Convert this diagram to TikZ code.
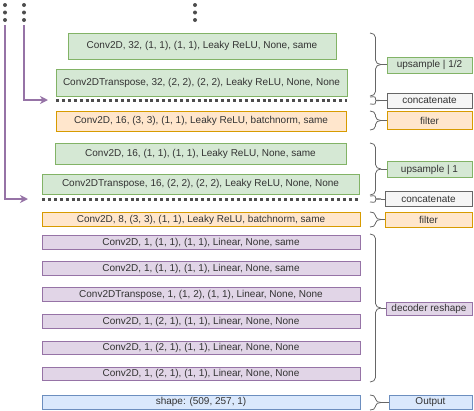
\documentclass[tikz,border=0pt]{standalone}
\usepackage{fontspec}
\setmainfont{Liberation Sans}
\usetikzlibrary{arrows.meta}
\definecolor{gfill}{HTML}{D5E8D4}\definecolor{gdraw}{HTML}{82B366}
\definecolor{ofill}{HTML}{FFE6CC}\definecolor{odraw}{HTML}{D79B00}
\definecolor{pfill}{HTML}{E1D5E7}\definecolor{pdraw}{HTML}{9673A6}
\definecolor{bfill}{HTML}{DAE8FC}\definecolor{bdraw}{HTML}{6C8EBF}
\definecolor{cfill}{HTML}{F5F5F5}\definecolor{cdraw}{HTML}{666666}
\definecolor{txt}{HTML}{333333}
\definecolor{dotc}{HTML}{4D4D4D}
\tikzset{
  base/.style={inner sep=0pt, outer sep=0pt, line width=0.8pt, text=txt, font=\fontsize{10}{11}\selectfont},
  gbox/.style={base, draw=gdraw, fill=gfill},
  obox/.style={base, draw=odraw, fill=ofill},
  pbox/.style={base, draw=pdraw, fill=pfill},
  bbox/.style={base, draw=bdraw, fill=bfill},
  cbox/.style={base, draw=cdraw, fill=cfill},
  dotline/.style={line width=3pt, dash pattern=on 3pt off 2.9pt, color=dotc},
  parr/.style={draw=pdraw, line width=1.5pt, -{Stealth[length=8pt,width=8pt,inset=2.5pt]}},
  brc/.style={draw=cdraw, line width=0.8pt},
}
\newcommand\mybrace[4]{%
  \pgfmathsetmacro\bmid{(#1+#2)/2}%
  \draw[brc] (370,#1) to[out=0,in=90] (375.5,#1+#3) -- (375.5,\bmid-#3) to[out=-90,in=180] (381,\bmid);
  \draw[brc] (370,#2) to[out=0,in=-90] (375.5,#2-#3) -- (375.5,\bmid+#3) to[out=90,in=180] (381,\bmid);
  \coordinate (#4) at (381,\bmid);
}
\begin{document}
\begin{tikzpicture}[x=1pt,y=-1pt]
\useasboundingbox (0,0) rectangle (474,410);
% dots
\foreach \xx in {5,24,195}{\foreach \yy in {5,12.5,20}{\fill[dotc] (\xx,\yy) circle (2);}}
% boxes
\node[gbox, minimum width=268pt, minimum height=26pt] (b1) at (202,46) {Conv2D, 32, (1, 1), (1, 1), Leaky ReLU, None, same};
\node[gbox, minimum width=291pt, minimum height=27pt] (b2) at (201.5,82.5) {Conv2DTranspose, 32, (2, 2), (2, 2), Leaky ReLU, None, None};
\coordinate (d1a) at (56,100); \coordinate (d1b) at (347,100);
\draw[dotline] (d1a) -- (d1b);
\node[obox, minimum width=290pt, minimum height=20pt] (b3) at (201,121) {Conv2D, 16, (3, 3), (1, 1), Leaky ReLU, batchnorm, same};
\node[gbox, minimum width=291pt, minimum height=21pt] (b4) at (200.5,153.5) {Conv2D, 16, (1, 1), (1, 1), Leaky ReLU, None, same};
\node[gbox, minimum width=317pt, minimum height=20pt] (b5) at (200.5,184) {Conv2DTranspose, 16, (2, 2), (2, 2), Leaky ReLU, None, None};
\coordinate (d2a) at (42,199); \coordinate (d2b) at (359,199);
\draw[dotline] (d2a) -- (d2b);
\node[obox, minimum width=318pt, minimum height=14pt] (b6) at (201,219.5) {Conv2D, 8, (3, 3), (1, 1), Leaky ReLU, batchnorm, same};
\node[pbox, minimum width=318pt, minimum height=13.5pt] (p1) at (201,242.5) {Conv2D, 1, (1, 1), (1, 1), Linear, None, same};
\node[pbox, minimum width=318pt, minimum height=13.5pt] (p2) at (201,268.5) {Conv2D, 1, (1, 1), (1, 1), Linear, None, same};
\node[pbox, minimum width=318pt, minimum height=13.5pt] (p3) at (201,294.5) {Conv2DTranspose, 1, (1, 2), (1, 1), Linear, None, None};
\node[pbox, minimum width=318pt, minimum height=13.5pt] (p4) at (201,321.5) {Conv2D, 1, (2, 1), (1, 1), Linear, None, None};
\node[pbox, minimum width=318pt, minimum height=13.5pt] (p5) at (201,348) {Conv2D, 1, (2, 1), (1, 1), Linear, None, None};
\node[pbox, minimum width=318pt, minimum height=13.5pt] (p6) at (201,374) {Conv2D, 1, (2, 1), (1, 1), Linear, None, None};
\node[bbox, minimum width=318pt, minimum height=14pt] (out) at (201,402) {shape: (509, 257, 1)};
% arrows
\coordinate (s1) at (5,25); \coordinate (e1) at (28,199);
\coordinate (s2) at (24,25); \coordinate (e2) at (48,100);
\draw[parr] (s1) |- (e1);
\draw[parr] (s2) |- (e2);
% labels
\node[gbox, minimum width=85pt, minimum height=16pt] (L1) at (429.5,65) {upsample | 1/2};
\node[cbox, minimum width=85pt, minimum height=15pt] (L2) at (429.5,100.5) {concatenate};
\node[obox, minimum width=85pt, minimum height=18pt] (L3) at (429.5,120.5) {filter};
\node[gbox, minimum width=85pt, minimum height=16pt] (L4) at (429.5,169.5) {upsample | 1};
\node[cbox, minimum width=87pt, minimum height=15pt] (L5) at (428.5,199) {concatenate};
\node[obox, minimum width=87pt, minimum height=15pt] (L6) at (428.5,219.5) {filter};
\node[pbox, minimum width=86pt, minimum height=13pt] (L7) at (429,308.5) {decoder reshape};
\node[bbox, minimum width=83pt, minimum height=14.5pt] (L8) at (430.5,402.5) {Output};
% braces
\mybrace{33}{96}{4.5}{t1}
\mybrace{97}{104}{1.2}{t2}
\mybrace{111}{130}{4}{t3}
\mybrace{143}{195}{4.5}{t4}
\mybrace{196}{202}{1.2}{t5}
\mybrace{212}{227}{3.5}{t6}
\mybrace{234}{382}{4.5}{t7}
\mybrace{395}{410}{3.5}{t8}
\foreach \t/\l in {t1/L1,t2/L2,t3/L3,t4/L4,t5/L5,t6/L6,t7/L7,t8/L8}{\draw[brc] (\t) -- (\t -| \l.west);}
\end{tikzpicture}
\end{document}
